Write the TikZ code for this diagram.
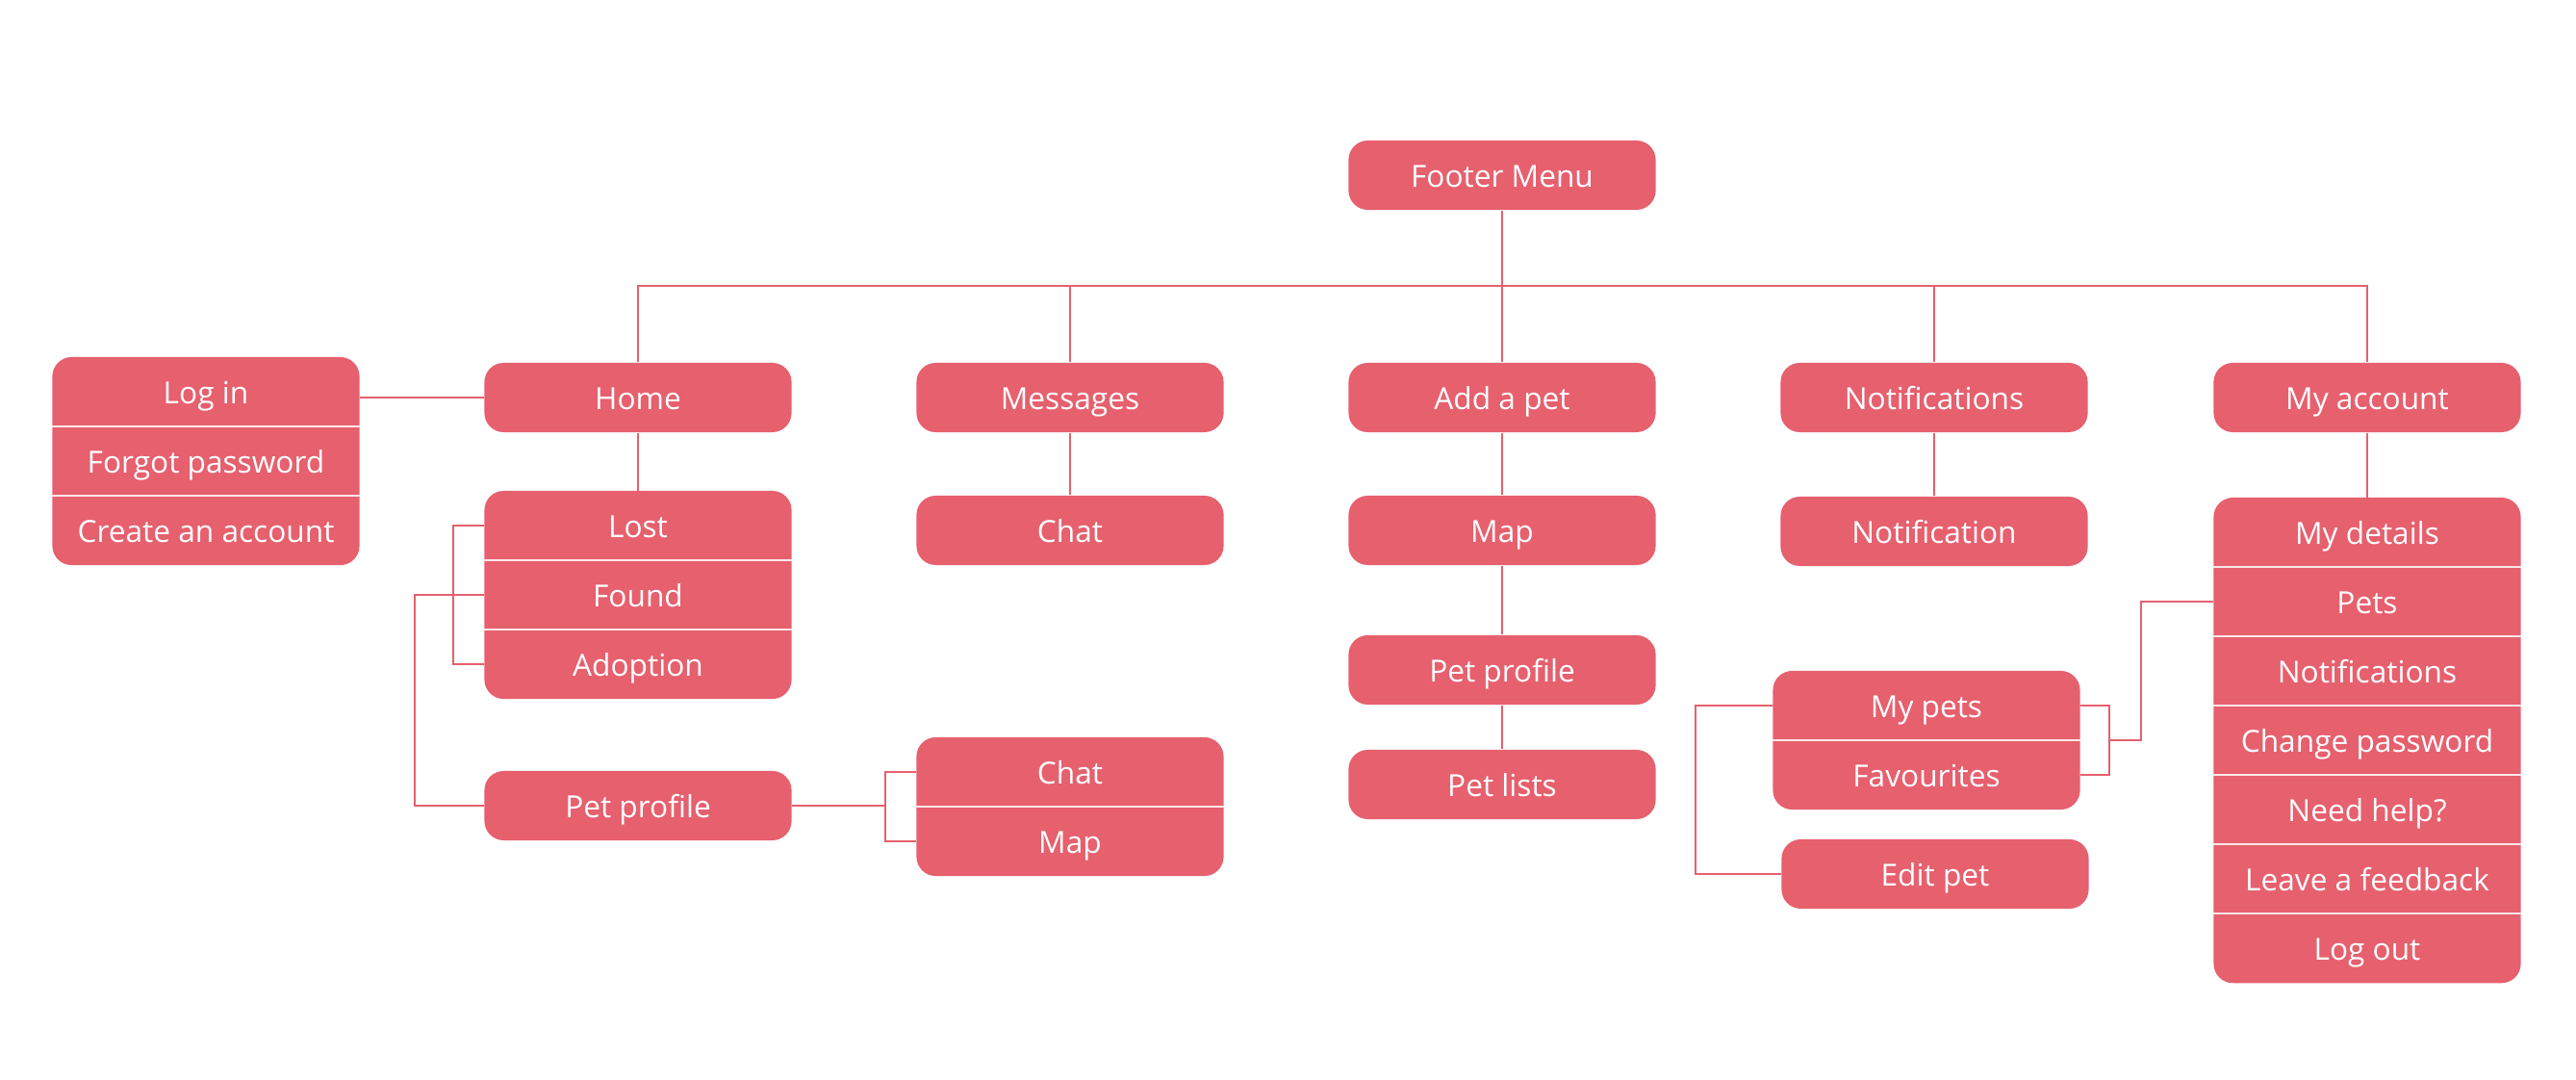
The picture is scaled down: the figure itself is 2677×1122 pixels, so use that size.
\documentclass[tikz,border=0pt]{standalone}
\usepackage{fontspec}
\setmainfont{Open Sans}
\usepackage{tikz}
\usetikzlibrary{positioning, calc, backgrounds}

\definecolor{petpink}{RGB}{230,96,110}

\begin{document}
\begin{tikzpicture}[x=0.01cm, y=-0.01cm,
    menubox/.style={rectangle, rounded corners=0.2cm, fill=petpink, text=white,
        minimum width=3.19cm, minimum height=0.72cm, inner sep=0pt,
        text height=0.96em, text depth=0.25em,
        font=\fontsize{9}{11}\selectfont},
    rowitem/.style={rectangle, text=white, minimum width=3.19cm,
        minimum height=0.72cm, inner sep=0pt, outer sep=0pt,
        text height=0.96em, text depth=0.25em,
        font=\fontsize{9}{11}\selectfont},
    link/.style={draw=petpink, line width=0.6pt},
    rowline/.style={draw=white!85!petpink, line width=0.5pt}]
    \useasboundingbox (0,0) rectangle (2677,1122);

    % Top of the tree
    \node[menubox] (footer) at (1561,182) {Footer Menu};
    \coordinate (bus) at (1561,297);

    \node[menubox] (home) at (663,413) {Home};
    \node[menubox] (messages) at (1112,413) {Messages};
    \node[menubox] (addpet) at (1561,413) {Add a pet};
    \node[menubox] (notifs) at (2010,413) {Notifications};
    \node[menubox] (account) at (2460,413) {My account};

    % Log in group
    \node[rowitem] (login) at (214,407) {Log in};
    \node[rowitem, below=0pt of login] (forgot) {Forgot password};
    \node[rowitem, below=0pt of forgot] (create) {Create an account};

    % Home column
    \node[rowitem] (lost) at (663,546) {Lost};
    \node[rowitem, below=0pt of lost] (found) {Found};
    \node[rowitem, below=0pt of found] (adoption) {Adoption};
    \node[menubox] (homepet) at (663,837) {Pet profile};
    \node[rowitem] (petchat) at (1112,802) {Chat};
    \node[rowitem, below=0pt of petchat] (petmap) {Map};

    % Messages column
    \node[menubox] (chat) at (1112,551) {Chat};

    % Add a pet column
    \node[menubox] (map) at (1561,551) {Map};
    \node[menubox] (addprofile) at (1561,696) {Pet profile};
    \node[menubox] (petlists) at (1561,815) {Pet lists};

    % Notifications column
    \node[menubox] (notification) at (2010,552) {Notification};
    \node[rowitem] (mypets) at (2002,733) {My pets};
    \node[rowitem, below=0pt of mypets] (favs) {Favourites};
    \node[menubox] (editpet) at (2011,908) {Edit pet};

    % My account group
    \node[rowitem] (details) at (2460,553) {My details};
    \node[rowitem, below=0pt of details] (pets) {Pets};
    \node[rowitem, below=0pt of pets] (accnotifs) {Notifications};
    \node[rowitem, below=0pt of accnotifs] (changepw) {Change password};
    \node[rowitem, below=0pt of changepw] (help) {Need help?};
    \node[rowitem, below=0pt of help] (feedback) {Leave a feedback};
    \node[rowitem, below=0pt of feedback] (logout) {Log out};

    % Group backgrounds and dividers
    \begin{scope}[on background layer]
        \fill[petpink, rounded corners=0.2cm] (login.north west) rectangle (create.south east);
        \fill[petpink, rounded corners=0.2cm] (lost.north west) rectangle (adoption.south east);
        \fill[petpink, rounded corners=0.2cm] (petchat.north west) rectangle (petmap.south east);
        \fill[petpink, rounded corners=0.2cm] (mypets.north west) rectangle (favs.south east);
        \fill[petpink, rounded corners=0.2cm] (details.north west) rectangle (logout.south east);
    \end{scope}
    \foreach \r in {login,forgot,lost,found,petchat,mypets,details,pets,accnotifs,changepw,help,feedback} {
        \draw[rowline] (\r.south west) -- (\r.south east);
    }

    % Connectors
    \draw[link] (footer.south) -- (bus);
    \foreach \n in {home,messages,addpet,notifs,account} {
        \draw[link] (bus) -| (\n.north);
    }
    \draw[link] (home.west) -- (home.west -| login.east);
    \draw[link] (home.south) -- (lost.north);
    \draw[link] (lost.west) -- ++(-32,0) |- (adoption.west);
    \draw[link] (found.west) -- ++(-72,0) |- (homepet.west);
    \draw[link] (homepet.east) -- ++(97,0) coordinate (ppjoin);
    \draw[link] (petchat.west) -| (ppjoin) |- (petmap.west);

    \draw[link] (messages.south) -- (chat.north);
    \draw[link] (addpet.south) -- (map.north);
    \draw[link] (map.south) -- (addprofile.north);
    \draw[link] (addprofile.south) -- (petlists.north);
    \draw[link] (notifs.south) -- (notification.north);
    \draw[link] (account.south) -- (details.north);

    \draw[link] (mypets.west) -- ++(-80,0) |- (editpet.west);
    \draw[link] (mypets.east) -- ++(30,0) |- (favs.east);
    \coordinate (favjoin) at ($(mypets.east)!0.5!(favs.east) + (30,0)$);
    \draw[link] (favjoin) -- ++(33,0) |- (pets.west);
\end{tikzpicture}
\end{document}
